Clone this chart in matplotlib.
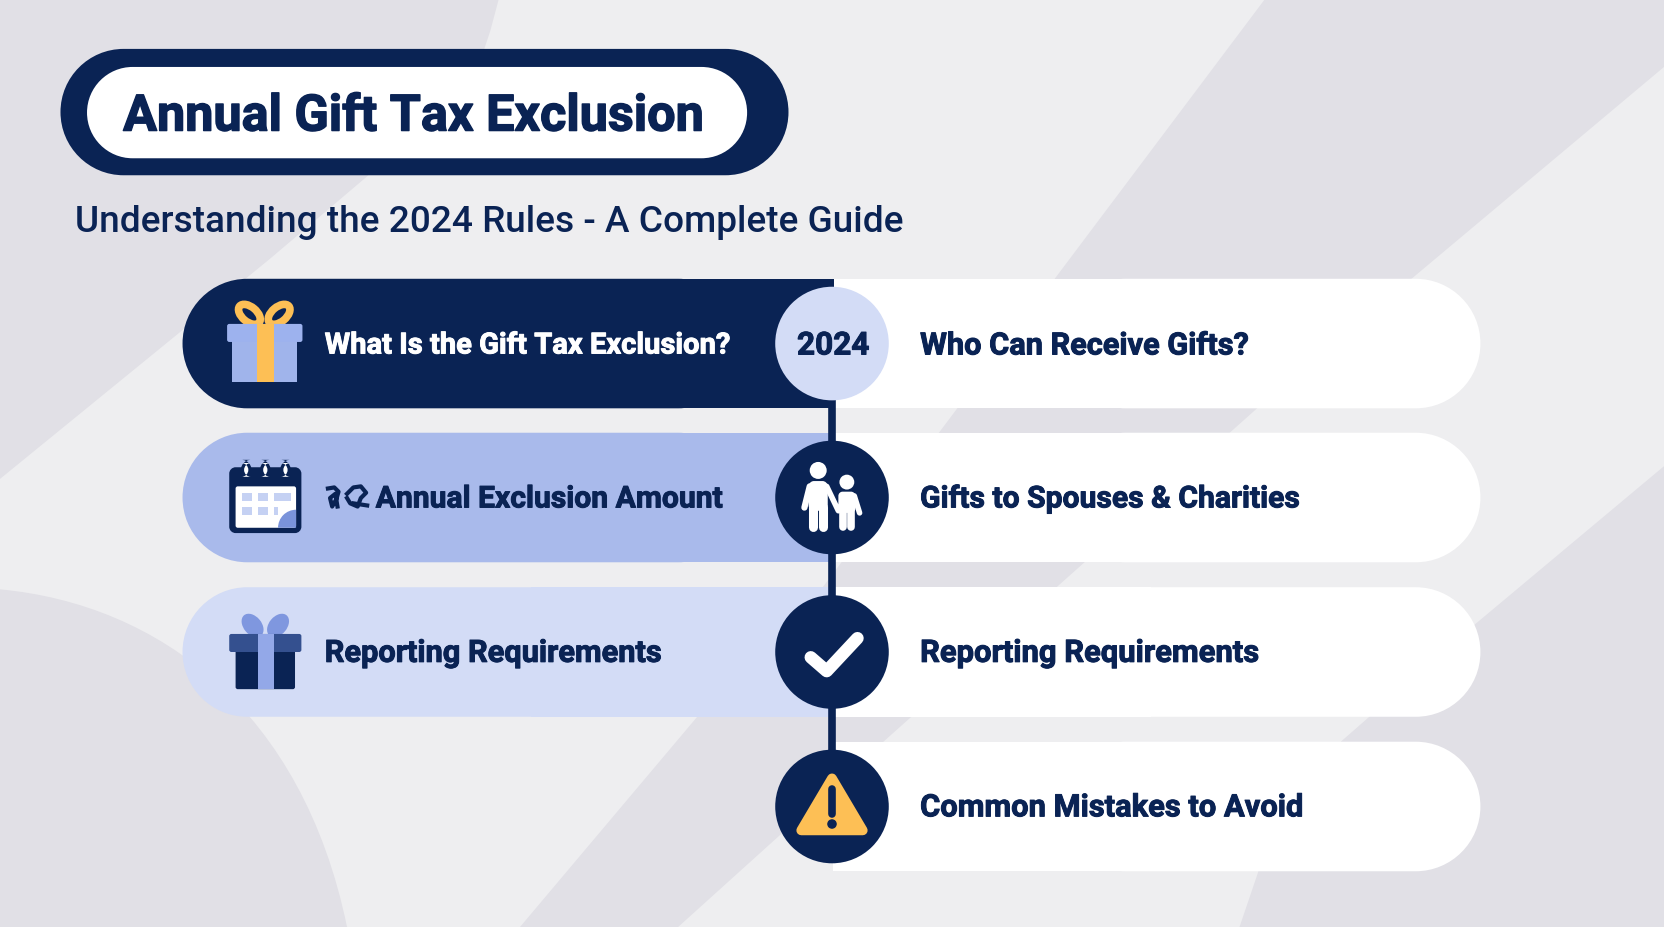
import matplotlib
matplotlib.use('Agg')
import matplotlib.pyplot as plt
import matplotlib.patheffects as pe
from matplotlib.patches import Rectangle, Circle, Ellipse, Polygon, PathPatch, Wedge
from matplotlib.path import Path

title = 'Annual Gift Tax Exclusion'
subtitle = 'Understanding the 2024 Rules - A Complete Guide'
left_labels = ['What Is the Gift Tax Exclusion?', 'Annual Exclusion Amount', 'Reporting Requirements']
right_labels = ['Who Can Receive Gifts?', 'Gifts to Spouses & Charities', 'Reporting Requirements', 'Common Mistakes to Avoid']
badge_text = '2024'

navy = '#0a2354'
mid = '#a9baeb'
light = '#d3dcf6'
gold = '#fdbf55'
bg = '#eeeef0'
bgdark = '#e1e0e6'
FONT = 'Roboto'

row_y = [324.5, 469.5, 615, 760.5]
text_y = [323.5, 468.5, 613, 758.5]
# text x start and x end (in picture units)
left_x = [(306, 687), (354, 680), (306, 623)]
right_x = [(867, 1176), (867, 1224), (867, 1186), (867, 1227)]

fig = plt.figure(figsize=(16.64, 9.28), dpi=100)
ax = fig.add_axes([0, 0, 1, 1])
ax.set_xlim(0, 1568)
ax.set_ylim(874, 0)
ax.axis('off')
fig.patch.set_facecolor(bg)


def put_text(x0, x1, y, s, color=navy, weight='bold', size=20, stroke=0.7):
    # size is scaled so the text gets the wanted width
    t = ax.text(x0, y, s, color=color, fontweight=weight, fontsize=size, family=FONT, va='center_baseline', ha='left', zorder=10)
    r = fig.canvas.get_renderer()
    w = t.get_window_extent(r).width
    t.set_fontsize(size * (x1 - x0) * 1.0612 / w)
    if stroke:
        t.set_path_effects([pe.withStroke(linewidth=stroke, foreground=color)])
    return t


def pill(x0, x1, y0, y1, col, z=2, rad=None):
    # rounded box with true circular corners
    r = rad if rad else (y1 - y0) / 2
    k = r * 0.5523
    verts = [(x0 + r, y0), (x1 - r, y0), (x1 - r + k, y0), (x1, y0 + r - k), (x1, y0 + r),
             (x1, y1 - r), (x1, y1 - r + k), (x1 - r + k, y1), (x1 - r, y1),
             (x0 + r, y1), (x0 + r - k, y1), (x0, y1 - r + k), (x0, y1 - r),
             (x0, y0 + r), (x0, y0 + r - k), (x0 + r - k, y0), (x0 + r, y0), (x0 + r, y0)]
    codes = [Path.MOVETO, Path.LINETO, Path.CURVE4, Path.CURVE4, Path.CURVE4,
             Path.LINETO, Path.CURVE4, Path.CURVE4, Path.CURVE4,
             Path.LINETO, Path.CURVE4, Path.CURVE4, Path.CURVE4,
             Path.LINETO, Path.CURVE4, Path.CURVE4, Path.CURVE4, Path.CLOSEPOLY]
    ax.add_patch(PathPatch(Path(verts, codes), fc=col, ec='none', zorder=z))


# background shapes
ax.add_patch(Polygon([(0, 0), (470, 0), (462, 30), (452, 60), (346, 167), (254, 245), (0, 452)], fc=bgdark, ec='none', zorder=0))
ax.add_patch(Polygon([(1192, 0), (995, 262), (776, 553), (657, 676), (490, 874), (639, 874), (833, 699), (1184, 386), (1568, 64), (1568, 0)], fc=bgdark, ec='none', zorder=0))
ax.add_patch(PathPatch(Path([(1568, 440), (1391, 588), (1264, 699), (1210, 760), (1186, 821), (1168, 874), (1568, 874), (1568, 440)],
                            [Path.MOVETO, Path.LINETO, Path.LINETO, Path.CURVE3, Path.CURVE3, Path.LINETO, Path.LINETO, Path.CLOSEPOLY]), fc=bgdark, ec='none', zorder=0))
ax.add_patch(PathPatch(Path([(0, 556), (150, 570), (285, 670), (327, 874), (0, 874), (0, 556)],
                            [Path.MOVETO, Path.CURVE4, Path.CURVE4, Path.CURVE4, Path.LINETO, Path.CLOSEPOLY]), fc=bgdark, ec='none', zorder=0))

# title
pill(57, 743, 47, 166, navy)
pill(82, 704, 64, 150, 'white', z=3)
put_text(116, 663, 106.5, title, size=36, stroke=1.0)
put_text(71, 852, 206, subtitle, weight='medium', size=26, stroke=0)

# rows
half = 61
for y in row_y:
    pill(1000, 1395, y - half, y + half, 'white')
    ax.add_patch(Rectangle((785, y - half), 300, 2 * half, fc='white', ec='none', zorder=2))
for y, c, xe in zip(row_y, [navy, mid, light], [785.5, 781, 781]):
    pill(172, 700, y - half, y + half, c, z=3)
    ax.add_patch(Rectangle((500, y - half), xe - 500, 2 * half, fc=c, ec='none', zorder=3))

for s, (a, b), y in zip(left_labels, left_x, text_y):
    put_text(a, b, y, s, color='white' if y == text_y[0] else navy)
for s, (a, b), y in zip(right_labels, right_x, text_y):
    put_text(a, b, y, s)

# line and circles
ax.plot([784, 784], [row_y[0], row_y[3]], color=navy, lw=5.5, zorder=5, solid_capstyle='butt')
for i, y in enumerate(row_y):
    ax.add_patch(Circle((784, y), 53.5, fc=light if i == 0 else navy, ec='none', zorder=6))
put_text(751, 819, text_y[0], badge_text)

# gift icon 1
for cx, ang in [(235, 40), (263, -40)]:
    ax.add_patch(Ellipse((cx, 297), 24, 14, angle=ang, fc='none', ec=gold, lw=5.5, zorder=7))
ax.add_patch(Rectangle((219, 322), 61, 39, fc='#a0b4eb', ec='none', zorder=7))
pill(214, 285, 306, 323, '#9db2ee', z=7, rad=2)
ax.add_patch(Rectangle((242, 306), 16, 55, fc=gold, ec='none', zorder=8))

# calendar icon
pill(216, 284, 441, 503, navy, z=7, rad=6)
pill(222, 279, 459, 498, 'white', z=8, rad=2)
for x in [232, 250, 269]:
    pill(x - 5, x + 5, 434, 453, navy, z=9)
    pill(x - 2, x + 2, 437, 450, 'white', z=10)
for x0, x1, y0 in [(228, 237, 465), (243, 253, 465), (258, 274, 465), (228, 237, 478), (243, 253, 478), (258, 262, 478)]:
    ax.add_patch(Rectangle((x0, y0), x1 - x0, 8, fc='#c5d1f3', ec='none', zorder=9))
ax.add_patch(Wedge((279, 498), 17, 180, 270, fc='#7a93da', ec='none', zorder=9))

# garbled little mark before the second label
ax.plot([309, 315, 319, 317, 313, 311, 316, 318], [461, 460, 464, 471, 478, 470, 466, 478], color=navy, lw=3, zorder=9)
ax.plot([327, 333, 340, 345, 340, 337, 330, 327], [466, 460, 459, 465, 470, 478, 475, 470], color=navy, lw=3, zorder=9)
ax.plot([333, 346], [475, 477], color=navy, lw=3, zorder=9)

# gift icon 3
for cx, ang in [(238, 50), (262, -50)]:
    ax.add_patch(Ellipse((cx, 590), 25, 17, angle=ang, fc='#7f97df', ec='none', zorder=7))
pill(222, 278, 612, 650, navy, z=7, rad=2)
pill(216, 284, 598, 615, '#34508f', z=8, rad=2)
ax.add_patch(Rectangle((243, 598), 15, 52, fc='#93a8e8', ec='none', zorder=9))

# people icon
wh = dict(color='white', zorder=8, solid_capstyle='round', solid_joinstyle='round')
ax.add_patch(Circle((771, 444), 8, fc='white', ec='none', zorder=8))
pill(762, 780, 454, 482, 'white', z=8, rad=5)
ax.plot([766.5, 766.5], [478, 497], lw=6.5, **wh)
ax.plot([775.5, 775.5], [478, 497], lw=6.5, **wh)
ax.plot([763, 758], [459, 479], lw=4.5, **wh)
ax.plot([779, 790, 793], [459, 482, 476], lw=4, **wh)
ax.add_patch(Circle((798, 455), 7, fc='white', ec='none', zorder=8))
pill(790, 806, 464, 484, 'white', z=8, rad=4)
ax.plot([794.5, 794.5], [480, 497], lw=5.5, **wh)
ax.plot([801.5, 801.5], [480, 497], lw=5.5, **wh)
ax.plot([805, 810], [468, 484], lw=4, **wh)

# check mark
ax.plot([764, 779, 808], [620, 633, 602], color='white', lw=9, solid_capstyle='round', solid_joinstyle='round', zorder=8)

# warning icon
ax.add_patch(Polygon([(784, 734), (755, 783), (813, 783)], fc=gold, ec=gold, lw=7, joinstyle='round', zorder=8))
ax.plot([784, 784], [744, 768], color=navy, lw=5.5, solid_capstyle='round', zorder=9)
ax.add_patch(Circle((784, 777), 4.5, fc=navy, ec='none', zorder=9))

fig.savefig('out.png', dpi=100, facecolor=bg)
